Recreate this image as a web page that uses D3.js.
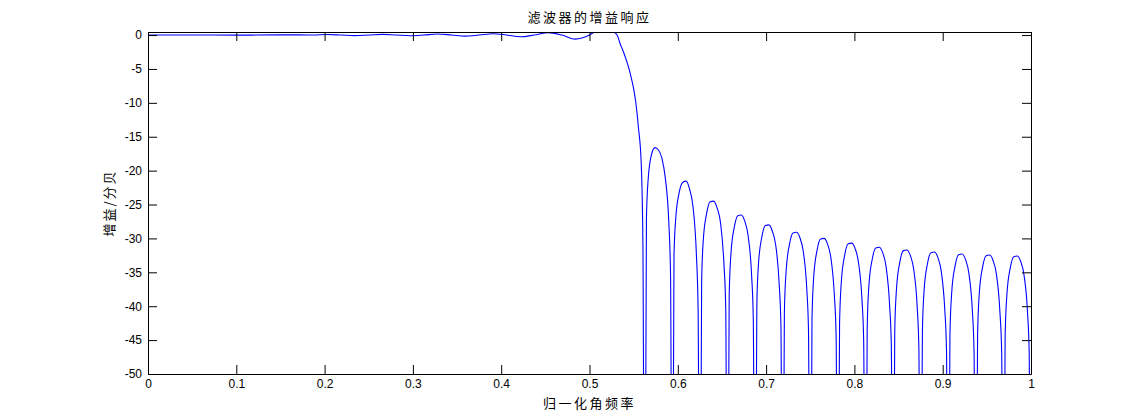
<!DOCTYPE html>
<html><head><meta charset="utf-8">
<script src="https://cdn.jsdelivr.net/npm/d3@7/dist/d3.min.js"></script>
<style>body{margin:0;background:#fff;} svg{display:block;}</style>
</head><body>
<svg id="chart" width="1138" height="420"></svg>
<script>
// ---------- text ----------
const titleText = "滤波器的增益响应";
const xLabelText = "归一化角频率";
const yLabelText = "增益/分贝";

// ---------- ticks ----------
const xTicks = [0, 0.1, 0.2, 0.3, 0.4, 0.5, 0.6, 0.7, 0.8, 0.9, 1];
const xTickLabels = ["0", "0.1", "0.2", "0.3", "0.4", "0.5", "0.6", "0.7", "0.8", "0.9", "1"];
const yTicks = [0, -5, -10, -15, -20, -25, -30, -35, -40, -45, -50];
const yTickLabels = ["0", "-5", "-10", "-15", "-20", "-25", "-30", "-35", "-40", "-45", "-50"];
const xDomain = [0, 1];
const yDomain = [-50, 0.45];

// ---------- series: normalized frequency / gain in dB ----------
const freqPass = [0, 0.05, 0.1, 0.15, 0.172, 0.1875, 0.203, 0.219, 0.234, 0.25, 0.266, 0.281, 0.297, 0.3125,
  0.328, 0.344, 0.359, 0.375, 0.391, 0.406, 0.422, 0.4375, 0.453, 0.469, 0.484, 0.5, 0.508, 0.516, 0.524, 0.53125];
const gainPass = [0, 0.01, -0.01, 0.02, 0.03, 0, 0.08, 0, -0.08, 0, 0.1, 0, -0.1, 0,
  0.15, 0, -0.16, 0, 0.2, 0, -0.26, 0, 0.36, 0, -0.6, 0, 0.65, 0.9, 0.7, 0];

const freqTrans = [0.5345, 0.5385, 0.542, 0.545, 0.5478, 0.5505, 0.5523, 0.5553, 0.5586, 0.5605, 0.5625];
const gainTrans = [-1.2, -2.5, -3.8, -5.1, -6.6, -8.3, -9.8, -13.5, -19, -31, -90];

const freqStop = [
  0.5645, 0.5664, 0.5703, 0.5742, 0.5781, 0.5820, 0.5859, 0.5898, 0.5918, 0.59375,
  0.5957, 0.5977, 0.6016, 0.6055, 0.6094, 0.6133, 0.6172, 0.6211, 0.6230, 0.625,
  0.6270, 0.6289, 0.6328, 0.6367, 0.6406, 0.6445, 0.6484, 0.6523, 0.6543, 0.65625,
  0.6582, 0.6602, 0.6641, 0.6680, 0.6719, 0.6758, 0.6797, 0.6836, 0.6855, 0.6875,
  0.6895, 0.6914, 0.6953, 0.6992, 0.7031, 0.7070, 0.7109, 0.7148, 0.7168, 0.71875,
  0.7207, 0.7227, 0.7266, 0.7305, 0.7344, 0.7383, 0.7422, 0.7461, 0.7480, 0.75,
  0.7520, 0.7539, 0.7578, 0.7617, 0.7656, 0.7695, 0.7734, 0.7773, 0.7793, 0.78125,
  0.7832, 0.7852, 0.7891, 0.7930, 0.7969, 0.8008, 0.8047, 0.8086, 0.8105, 0.8125,
  0.8145, 0.8164, 0.8203, 0.8242, 0.8281, 0.8320, 0.8359, 0.8398, 0.8418, 0.84375,
  0.8457, 0.8477, 0.8516, 0.8555, 0.8594, 0.8633, 0.8672, 0.8711, 0.8730, 0.875,
  0.8770, 0.8789, 0.8828, 0.8867, 0.8906, 0.8945, 0.8984, 0.9023, 0.9043, 0.90625,
  0.9082, 0.9102, 0.9141, 0.9180, 0.9219, 0.9258, 0.9297, 0.9336, 0.9355, 0.9375,
  0.9395, 0.9414, 0.9453, 0.9492, 0.9531, 0.9570, 0.9609, 0.9648, 0.9668, 0.96875,
  0.9707, 0.9727, 0.9766, 0.9805, 0.9844, 0.9883, 0.9922, 0.9961, 0.9980, 1.0
];
const gainStop = [
  -27.0, -21.35, -17.55, -16.6, -16.95, -18.15, -21.15, -27.55, -35.5, -90,
  -32.5, -27.0, -23.2, -21.75, -21.55, -22.7, -25.3, -32.5, -40.5, -90,
  -36.4, -30.2, -26.2, -24.6, -24.5, -25.5, -27.7, -33.9, -40.4, -90,
  -38.45, -32.25, -28.25, -26.65, -26.55, -27.45, -29.65, -35.45, -41.95, -90,
  -39.9, -33.7, -29.7, -28.1, -28.0, -28.9, -31.0, -36.7, -42.9, -90,
  -41.0, -34.8, -30.8, -29.2, -29.1, -29.9, -32.0, -37.5, -43.5, -90,
  -41.9, -35.7, -31.7, -30.1, -30.0, -30.8, -32.9, -38.4, -44.4, -90,
  -42.6, -36.4, -32.4, -30.8, -30.7, -31.5, -33.6, -39.1, -45.1, -90,
  -43.2, -37.0, -33.0, -31.4, -31.3, -32.1, -34.2, -39.7, -45.7, -90,
  -43.6, -37.4, -33.4, -31.8, -31.7, -32.5, -34.6, -40.1, -46.1, -90,
  -43.9, -37.7, -33.7, -32.1, -32.0, -32.8, -34.9, -40.4, -46.4, -90,
  -44.2, -38.0, -34.0, -32.4, -32.3, -33.1, -35.2, -40.7, -46.7, -90,
  -44.35, -38.15, -34.15, -32.55, -32.45, -33.25, -35.35, -40.85, -46.85, -90,
  -44.5, -38.3, -34.3, -32.7, -32.6, -33.4, -35.5, -41.0, -47.0, -90
];

// ---------- build ----------
const freq = freqPass.concat(freqTrans, freqStop);
const gainDb = gainPass.concat(gainTrans, gainStop);
const data = freq.map((f, i) => ({f: f, g: gainDb[i]}));

const W = 1138, H = 420;
const plot = {left: 148, top: 32, right: 1031, bottom: 374};
const svg = d3.select("#chart");
svg.append("rect").attr("width", W).attr("height", H).attr("fill", "#fff");

const x = d3.scaleLinear().domain(xDomain).range([plot.left, plot.right]);
const y = d3.scaleLinear().domain(yDomain).range([plot.bottom, plot.top]);

svg.append("defs").append("clipPath").attr("id", "clip")
  .append("rect").attr("x", plot.left).attr("y", plot.top)
  .attr("width", plot.right - plot.left).attr("height", plot.bottom - plot.top);

const tickFont = "'Liberation Sans', Arial, Helvetica, sans-serif";
const cjkFont = "'Noto Sans CJK SC', 'Noto Sans', sans-serif";

// data line
const line = d3.line().x(d => x(d.f)).y(d => y(d.g)).curve(d3.curveMonotoneX);
svg.append("g").attr("clip-path", "url(#clip)")
  .append("path").datum(data).attr("d", line)
  .attr("fill", "none").attr("stroke", "#0000ff").attr("stroke-width", 1.1);

// axes
const xLabelMap = new Map(xTicks.map((t, i) => [t, xTickLabels[i]]));
const yLabelMap = new Map(yTicks.map((t, i) => [t, yTickLabels[i]]));

const gBottom = svg.append("g").attr("transform", `translate(0,${plot.bottom})`)
  .call(d3.axisBottom(x).tickValues(xTicks).tickFormat(d => xLabelMap.get(d))
    .tickSizeInner(-9).tickSizeOuter(0).tickPadding(5));
const gTop = svg.append("g").attr("transform", `translate(0,${plot.top})`)
  .call(d3.axisTop(x).tickValues(xTicks).tickFormat("")
    .tickSizeInner(-9).tickSizeOuter(0));
const gLeft = svg.append("g").attr("transform", `translate(${plot.left},0)`)
  .call(d3.axisLeft(y).tickValues(yTicks).tickFormat(d => yLabelMap.get(d))
    .tickSizeInner(-9).tickSizeOuter(0).tickPadding(6));
const gRight = svg.append("g").attr("transform", `translate(${plot.right},0)`)
  .call(d3.axisRight(y).tickValues(yTicks).tickFormat("")
    .tickSizeInner(-9).tickSizeOuter(0));

[gBottom, gTop, gLeft, gRight].forEach(g => {
  g.selectAll("path.domain").attr("stroke", "#000").attr("stroke-width", 1);
  g.selectAll(".tick line").attr("stroke", "#000").attr("stroke-width", 1);
  g.selectAll("text").attr("fill", "#000").attr("font-family", tickFont).attr("font-size", 12);
});

// titles
svg.append("text").attr("x", (plot.left + plot.right) / 2).attr("y", 16)
  .attr("text-anchor", "middle").attr("dominant-baseline", "central")
  .attr("font-family", cjkFont).attr("font-size", 13).attr("letter-spacing", "2.5px")
  .attr("fill", "#000").text(titleText);

svg.append("text").attr("x", (plot.left + plot.right) / 2).attr("y", 402)
  .attr("text-anchor", "middle").attr("dominant-baseline", "central")
  .attr("font-family", cjkFont).attr("font-size", 13).attr("letter-spacing", "2.5px")
  .attr("fill", "#000").text(xLabelText);

svg.append("text")
  .attr("transform", `translate(108,${(plot.top + plot.bottom) / 2}) rotate(-90)`)
  .attr("text-anchor", "middle").attr("dominant-baseline", "central")
  .attr("font-family", cjkFont).attr("font-size", 13).attr("letter-spacing", "2px")
  .attr("fill", "#000").text(yLabelText);
</script>
</body></html>
